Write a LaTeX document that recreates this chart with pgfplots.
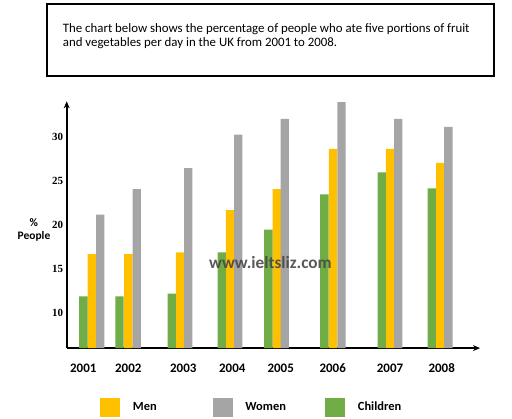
\documentclass[border=0pt]{standalone}
\usepackage{fontspec}
\setmainfont{Carlito}
\newfontfamily\tnr{Liberation Serif}
\usepackage{pgfplots}
\pgfplotsset{compat=1.18}
\usetikzlibrary{arrows.meta}
\definecolor{cgreen}{HTML}{70AD47}
\definecolor{cmen}{HTML}{FFC000}
\definecolor{cwomen}{HTML}{A5A5A5}

\begin{document}
\begin{tikzpicture}[x=1bp,y=1bp]
\useasboundingbox (0,0) rectangle (512,418);
\draw[line width=1.6bp] (46.7,342) rectangle (494,414);
\node[anchor=base west, inner sep=0, font=\fontsize{12.9}{15}\selectfont] at (62.7,385.7) {The chart below shows the percentage of people who ate five portions of fruit};
\node[anchor=base west, inner sep=0, font=\fontsize{12.9}{15}\selectfont] at (62.7,371.3) {and vegetables per day in the UK from 2001 to 2008.};
\begin{axis}[
  at={(66.7,79.6)}, anchor=south west,
  scale only axis, width=413.3bp, height=246.75bp,
  xmin=66.7, xmax=480, ymin=6, ymax=34.1,
  axis x line=bottom, axis y line=left,
  axis line style={line width=1.8bp, -{Stealth[length=7bp,width=6bp]}},
  major tick length=0pt,
  ytick={10,15,20,25,30}, yticklabels={10,15,20,25,30},
  yticklabel style={font=\tnr\bfseries\fontsize{11}{13}\selectfont, anchor=east, inner sep=0pt, xshift=-3.4bp},
  xtick={83.3,128.3,183.3,232.3,280.7,332.7,390,441.7},
  xticklabels={2001,2002,2003,2004,2005,2006,2007,2008},
  xticklabel style={font=\bfseries\fontsize{13}{15}\selectfont, anchor=center, inner sep=0pt, yshift=-20bp},
  ybar, bar shift=0pt, bar width=8.4,
  legend columns=3,
  legend style={at={(0.0806,-0.2391)}, anchor=west, draw=none, fill=none, inner sep=0pt,
    font=\bfseries\fontsize{12.5}{14}\selectfont,
    /tikz/every odd column/.append style={column sep=12.7bp},
    /tikz/every even column/.append style={column sep=0bp},
    nodes={inner sep=0pt}},
  legend cell align=left,
  legend image code/.code={\fill[#1] (0bp,-9.5bp) rectangle (20bp,9.5bp);},
]
\addplot[fill=cmen, draw=none] coordinates {(91.7,16.7) (128.3,16.7) (180,16.9) (230,21.7) (276.7,24.1) (333,28.7) (390,28.7) (440.2,27.1)};
\addplot[fill=cwomen, draw=none] coordinates {(100.2,21.2) (136.7,24.1) (188.2,26.5) (238.2,30.3) (284.7,32.1) (341.5,34.0) (398.2,32.1) (448.3,31.2)};
\addplot[fill=cgreen, draw=none] coordinates {(83.3,11.9) (119.5,11.9) (171.7,12.2) (221.7,16.9) (268.3,19.5) (324.3,23.5) (381.7,26.0) (431.7,24.2)};
\legend{\makebox[79.8bp][l]{Men},\makebox[79.8bp][l]{Women},\makebox[79.8bp][l]{Children}}
\end{axis}
\node[font=\bfseries\fontsize{11.5}{13}\selectfont, inner sep=0] at (33.8,195.3) {\%};
\node[font=\bfseries\fontsize{11.5}{13}\selectfont, inner sep=0] at (34,181.3) {People};
\node[font=\bfseries\fontsize{17.3}{19}\selectfont, text=black!72, opacity=0.9, inner sep=0] at (270.4,155.3) {www.ieltsliz.com};
\end{tikzpicture}
\end{document}
